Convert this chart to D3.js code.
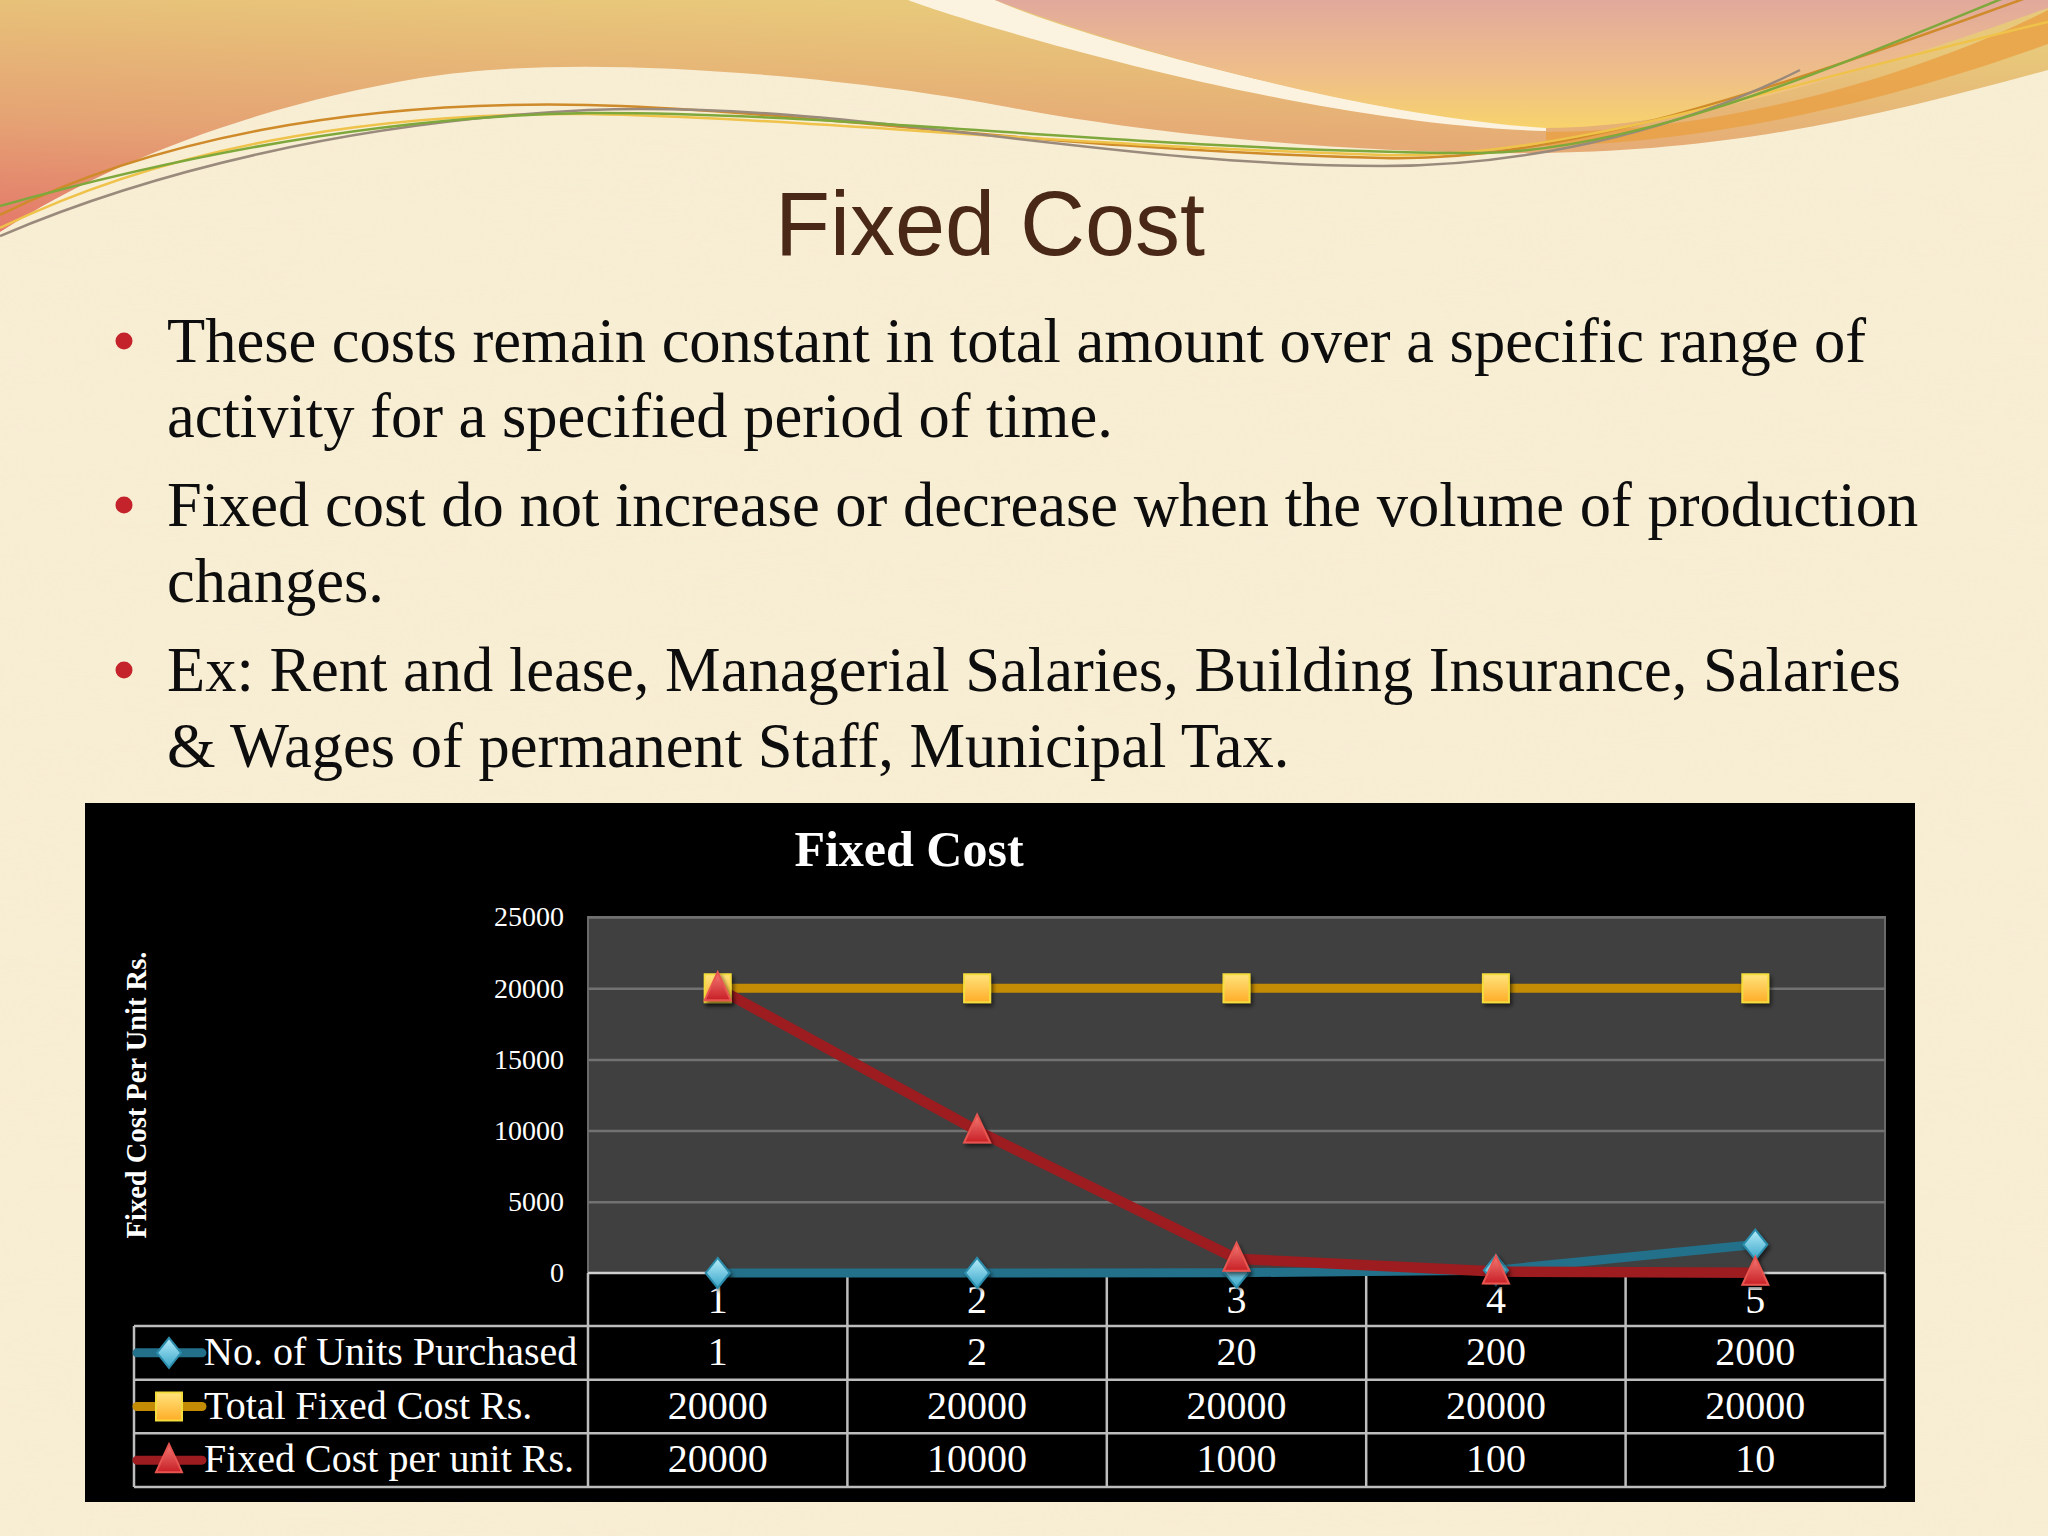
<!DOCTYPE html>
<html>
<head>
<meta charset="utf-8">
<script src="https://cdn.jsdelivr.net/npm/d3@7"></script>
<style>
  body { margin: 0; background: #f8eed6; }
  svg { display: block; }
</style>
</head>
<body>
<script>
const W = 2048, H = 1536;

// data
const categories = ["1", "2", "3", "4", "5"];
const seriesNames = ["No. of Units Purchased", "Total Fixed Cost Rs.", "Fixed Cost per unit Rs."];
const unitsPurchased = [1, 2, 20, 200, 2000];
const totalFixedCost = [20000, 20000, 20000, 20000, 20000];
const fixedCostPerUnit = [20000, 10000, 1000, 100, 10];
const yTicks = [0, 5000, 10000, 15000, 20000, 25000];
const slideTitle = "Fixed Cost";
const chartTitle = "Fixed Cost";
const yTitle = "Fixed Cost Per Unit Rs.";
const bulletLines = [
  ["These costs remain constant in total amount over a specific range of", true],
  ["activity for a specified period of time.", false],
  ["Fixed cost do not increase or decrease when the volume of production", true],
  ["changes.", false],
  ["Ex: Rent and lease, Managerial Salaries, Building Insurance, Salaries", true],
  ["& Wages of permanent Staff, Municipal Tax.", false]
];

const SERIF = "'Liberation Serif', 'Times New Roman', serif";
const SANS = "'Liberation Sans', Arial, sans-serif";

const svg = d3.select("body").append("svg")
  .attr("width", W).attr("height", H);

const defs = svg.append("defs");

function grad(id, stops, x1, y1, x2, y2) {
  const g = defs.append("linearGradient").attr("id", id)
    .attr("x1", x1).attr("y1", y1).attr("x2", x2).attr("y2", y2);
  stops.forEach(s => g.append("stop").attr("offset", s[0]).attr("stop-color", s[1]));
}
grad("orange", [[0, "#e8c87a"], [0.55, "#e5a474"], [1, "#e4786a"]], "0.35", "0", "0", "1");
grad("pink", [[0, "#e1a99c"], [0.6, "#efbf88"], [1, "#f7d36c"]], "0", "0", "0", "1");
grad("diamondFill", [[0, "#b4ecfa"], [1, "#3aa6c8"]], "0", "0", "0", "1");
grad("squareFill", [[0, "#ffe47c"], [1, "#ffad28"]], "0", "0", "0", "1");
grad("triFill", [[0, "#f37a74"], [1, "#c81f26"]], "0", "0", "0", "1");

const paper = defs.append("filter").attr("id", "paper");
paper.append("feTurbulence").attr("type", "fractalNoise")
  .attr("baseFrequency", "0.006 0.05").attr("numOctaves", 2).attr("seed", 4);
paper.append("feColorMatrix").attr("type", "matrix")
  .attr("values", "0 0 0 0 0.90  0 0 0 0 0.82  0 0 0 0 0.62  0 0 0 0.5 -0.1");

const shadow = defs.append("filter").attr("id", "shadow")
  .attr("x", "-50%").attr("y", "-50%").attr("width", "200%").attr("height", "200%");
shadow.append("feDropShadow").attr("dx", 2).attr("dy", 3).attr("stdDeviation", 2)
  .attr("flood-color", "#000").attr("flood-opacity", 0.6);

// ---- slide background
svg.append("rect").attr("width", W).attr("height", H).attr("fill", "#f8eed4");
svg.append("rect").attr("width", W).attr("height", H).attr("filter", "url(#paper)").attr("opacity", 0.35);

// header waves
svg.append("path")
  .attr("d", "M0,232 C110,160 260,105 420,78 C520,62 650,64 800,78 C900,88 960,98 1024,110 C1150,133 1350,155 1546,153 C1750,150 1900,110 2048,70 V0 H0 Z")
  .attr("fill", "url(#orange)");
svg.append("path")
  .attr("d", "M2048,10 C1950,60 1750,132 1546,132 L1546,146 C1750,142 1950,80 2048,44 Z")
  .attr("fill", "#eaa044").attr("opacity", 0.8);
svg.append("path")
  .attr("d", "M908,0 C960,20 1300,125 1546,131 L1546,126 C1380,120 1080,38 995,0 Z")
  .attr("fill", "#fbf3df");
svg.append("path")
  .attr("d", "M995,0 C1100,40 1350,115 1546,128 C1700,128 1900,60 2048,8 V0 Z")
  .attr("fill", "url(#pink)");

const swooshes = [
  ["M0,215 C150,140 350,100 588,105 C800,110 1050,150 1383,158 C1560,162 1760,95 2048,-10", "#cf8a2a"],
  ["M0,228 C160,150 360,112 588,114 C800,118 1050,145 1383,155 C1560,160 1760,90 2048,22", "#efc24a"],
  ["M0,236 C150,172 350,122 588,110 C850,100 1100,166 1383,166 C1550,166 1700,120 1800,70", "#9a8a7c"],
  ["M0,206 C200,150 400,116 588,113 C850,112 1150,152 1481,153 C1650,150 1850,60 2048,-20", "#7ea83c"]
];
svg.selectAll(".swoosh").data(swooshes).enter().append("path")
  .attr("class", "swoosh")
  .attr("d", d => d[0]).attr("fill", "none")
  .attr("stroke", d => d[1]).attr("stroke-width", 2.5);

// ---- slide title and bullets
svg.append("text")
  .attr("x", 990).attr("y", 255)
  .attr("text-anchor", "middle")
  .attr("font-family", SANS).attr("font-size", 90)
  .attr("fill", "#4a2818")
  .text(slideTitle);

const lineY = [362, 437, 526, 602, 691, 767];
svg.selectAll(".bullet-text").data(bulletLines).enter().append("text")
  .attr("class", "bullet-text")
  .attr("x", 167).attr("y", (d, i) => lineY[i])
  .attr("font-family", SERIF).attr("font-size", 62.5)
  .attr("fill", "#0d0d0d")
  .text(d => d[0]);
svg.selectAll(".bullet-dot").data(bulletLines.filter(d => d[1])).enter().append("circle")
  .attr("class", "bullet-dot")
  .attr("cx", 124)
  .attr("cy", d => lineY[bulletLines.indexOf(d)] - 21)
  .attr("r", 8.5)
  .attr("fill", "#c4232b");

// ---- chart block
const chart = svg.append("g");
chart.append("rect")
  .attr("x", 85).attr("y", 803).attr("width", 1830).attr("height", 699)
  .attr("fill", "#000");

const PLOT = {left: 588, right: 1885, top: 917, bottom: 1273};
const TABLE = {left: 134, top: 1326, bottom: 1487};

const x = d3.scaleBand().domain(categories).range([PLOT.left, PLOT.right]).padding(0);
const y = d3.scaleLinear().domain([0, 25000]).range([PLOT.bottom, PLOT.top]);
const rows = d3.scaleBand().domain(seriesNames).range([TABLE.top, TABLE.bottom]);

chart.append("rect")
  .attr("x", PLOT.left).attr("y", PLOT.top)
  .attr("width", PLOT.right - PLOT.left).attr("height", PLOT.bottom - PLOT.top)
  .attr("fill", "#404040").attr("stroke", "#6a6a6a").attr("stroke-width", 2);

// gridlines
chart.append("g")
  .attr("transform", `translate(${PLOT.left},0)`)
  .call(d3.axisLeft(y).tickValues(yTicks.filter(v => v > 0)).tickSize(-(PLOT.right - PLOT.left)).tickFormat(""))
  .call(g => g.select(".domain").remove())
  .call(g => g.selectAll(".tick line").attr("stroke", "#727272").attr("stroke-width", 2.5));

// y axis labels
chart.append("g")
  .attr("transform", `translate(${PLOT.left},0)`)
  .call(d3.axisLeft(y).tickValues(yTicks).tickSize(0).tickPadding(24).tickFormat(d3.format("d")))
  .call(g => g.select(".domain").remove())
  .call(g => g.selectAll(".tick text")
    .attr("fill", "#fff").attr("font-family", SERIF).attr("font-size", 28));

chart.append("text")
  .attr("transform", "translate(146,1095) rotate(-90)")
  .attr("text-anchor", "middle")
  .attr("font-family", SERIF).attr("font-weight", "bold").attr("font-size", 28.5)
  .attr("fill", "#fff")
  .text(yTitle);

chart.append("text")
  .attr("x", 909).attr("y", 866)
  .attr("text-anchor", "middle")
  .attr("font-family", SERIF).attr("font-weight", "bold").attr("font-size", 50)
  .attr("fill", "#fff")
  .text(chartTitle);

// data table grid
const gridColor = "#bdbdbd";
const tableLines = chart.append("g").attr("stroke", gridColor).attr("stroke-width", 2.5);
[TABLE.top].concat(seriesNames.map(s => rows(s) + rows.bandwidth())).forEach(v => {
  tableLines.append("line").attr("x1", TABLE.left).attr("x2", PLOT.right).attr("y1", v).attr("y2", v);
});
categories.forEach(c => {
  tableLines.append("line").attr("x1", x(c)).attr("x2", x(c)).attr("y1", PLOT.bottom).attr("y2", TABLE.bottom);
});
tableLines.append("line").attr("x1", PLOT.right).attr("x2", PLOT.right).attr("y1", PLOT.bottom).attr("y2", TABLE.bottom);
tableLines.append("line").attr("x1", TABLE.left).attr("x2", TABLE.left).attr("y1", TABLE.top).attr("y2", TABLE.bottom);

// category labels
chart.selectAll(".cat").data(categories).enter().append("text")
  .attr("class", "cat")
  .attr("x", d => x(d) + x.bandwidth() / 2).attr("y", PLOT.bottom + 40)
  .attr("text-anchor", "middle")
  .attr("font-family", SERIF).attr("font-size", 40).attr("fill", "#fff")
  .text(d => d);

// zero line
chart.append("line")
  .attr("x1", PLOT.left).attr("x2", PLOT.right)
  .attr("y1", y(0)).attr("y2", y(0))
  .attr("stroke", "#cfcfcf").attr("stroke-width", 2.5);

const series = [
  {name: seriesNames[0], values: unitsPurchased, color: "#22708a", width: 9, marker: "diamond"},
  {name: seriesNames[1], values: totalFixedCost, color: "#c48c04", width: 9, marker: "square"},
  {name: seriesNames[2], values: fixedCostPerUnit, color: "#9c1c20", width: 10.5, marker: "triangle"}
];

const markerPath = {
  diamond: "M0,-15 L12,0 L0,15 L-12,0 Z",
  square: "M-13,-14 H13 V14 H-13 Z",
  triangle: "M0,-16 L13,12 L-13,12 Z"
};
const markerFill = {diamond: "url(#diamondFill)", square: "url(#squareFill)", triangle: "url(#triFill)"};
const markerStroke = {diamond: "#2c8cab", square: "#f4dc3c", triangle: "#e85450"};

const line = d3.line()
  .x((d, i) => x(categories[i]) + x.bandwidth() / 2)
  .y(d => y(d));

chart.selectAll(".series-line").data(series).enter().append("path")
  .attr("class", "series-line")
  .attr("d", d => line(d.values))
  .attr("fill", "none")
  .attr("stroke", d => d.color)
  .attr("stroke-width", d => d.width)
  .attr("stroke-linejoin", "round");

series.forEach(s => {
  chart.selectAll(null).data(s.values).enter().append("path")
    .attr("transform", (d, i) => `translate(${x(categories[i]) + x.bandwidth() / 2},${y(d)})`)
    .attr("d", markerPath[s.marker])
    .attr("fill", markerFill[s.marker])
    .attr("stroke", markerStroke[s.marker])
    .attr("stroke-width", 2)
    .attr("filter", "url(#shadow)");
});

// table rows: legend keys, names and values
series.forEach(s => {
  const top = rows(s.name);
  const mid = top + rows.bandwidth() / 2;
  chart.append("line")
    .attr("x1", TABLE.left + 3).attr("x2", 202)
    .attr("y1", mid).attr("y2", mid)
    .attr("stroke", s.color).attr("stroke-width", 9).attr("stroke-linecap", "round");
  chart.append("path")
    .attr("transform", `translate(169,${mid})`)
    .attr("d", markerPath[s.marker])
    .attr("fill", markerFill[s.marker])
    .attr("stroke", markerStroke[s.marker])
    .attr("stroke-width", 2);
  chart.append("text")
    .attr("x", 204).attr("y", top + 39)
    .attr("font-family", SERIF).attr("font-size", 40).attr("fill", "#fff")
    .text(s.name);
  chart.selectAll(null).data(s.values).enter().append("text")
    .attr("x", (d, i) => x(categories[i]) + x.bandwidth() / 2)
    .attr("y", top + 39)
    .attr("text-anchor", "middle")
    .attr("font-family", SERIF).attr("font-size", 40).attr("fill", "#fff")
    .text(d => d);
});
</script>
</body>
</html>
